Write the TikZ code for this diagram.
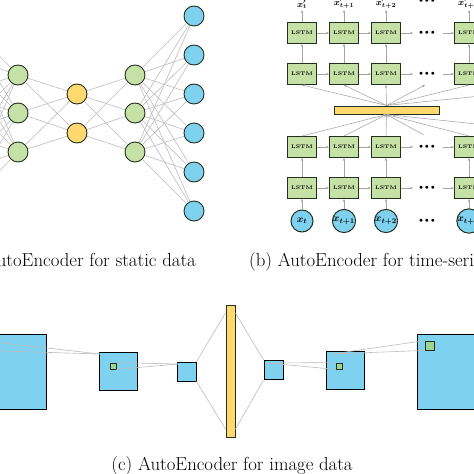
\documentclass[tikz,border=0pt]{standalone}
\usetikzlibrary{arrows.meta}
\definecolor{nngreen}{RGB}{198,225,165}
\definecolor{nnyellow}{RGB}{255,216,112}
\definecolor{nnblue}{RGB}{126,210,240}
\definecolor{edgec}{RGB}{36,48,30}
\definecolor{linkc}{RGB}{188,188,188}
\definecolor{arrc}{RGB}{165,165,165}
\definecolor{innergreen}{RGB}{160,210,150}
\begin{document}
\begin{tikzpicture}[x=1pt,y=-1pt,
  neuron/.style={circle,draw=edgec,line width=0.9pt,minimum size=20pt,inner sep=0pt},
  gn/.style={neuron,fill=nngreen},
  yn/.style={neuron,fill=nnyellow},
  bn/.style={neuron,fill=nnblue},
  link/.style={draw=linkc,line width=0.6pt},
  lstm/.style={rectangle,draw=edgec,line width=1pt,fill=nngreen,minimum width=29pt,minimum height=21pt,inner sep=0pt,font=\fontsize{5.2}{6}\selectfont\bfseries},
  xin/.style={circle,draw=edgec,line width=1pt,fill=nnblue,minimum size=22pt,inner sep=0pt,font=\fontsize{10}{11}\selectfont\boldmath},
  arr/.style={draw=arrc,line width=0.55pt,-{Stealth[length=3pt,width=2.6pt]}},
  outlab/.style={inner sep=1pt,font=\fontsize{9}{10}\selectfont\boldmath},
  dotsn/.style={inner sep=0pt,font=\fontsize{7}{7}\selectfont},
  sq/.style={rectangle,draw=black,line width=1pt,fill=nnblue,inner sep=0pt},
  insq/.style={rectangle,draw=edgec,line width=0.8pt,fill=innergreen,inner sep=0pt},
  captxt/.style={inner sep=0pt,font=\fontsize{18.8}{22}\selectfont}
]
\useasboundingbox (0,0) rectangle (474,474);
\clip (0,0) rectangle (474,474);

% ---------- (a) static data ----------
\foreach \i/\yy in {1/16,2/55,3/94,4/133,5/172,6/211}{
  \node[bn] (in\i) at (-40,\yy) {};
  \node[bn] (o\i) at (194,\yy) {};
}
\foreach \i/\yy in {1/75,2/113,3/152}{
  \node[gn] (g\i) at (18,\yy) {};
  \node[gn] (h\i) at (135,\yy) {};
}
\foreach \i/\yy in {1/94,2/133}{
  \node[yn] (y\i) at (77,\yy) {};
}
\foreach \i in {1,...,6}{\foreach \j in {1,2,3}{
  \draw[link] (in\i) -- (g\j);
  \draw[link] (h\j) -- (o\i);
}}
\foreach \i in {1,2,3}{\foreach \j in {1,2}{
  \draw[link] (g\i) -- (y\j);
  \draw[link] (y\j) -- (h\i);
}}
\node[captxt,anchor=base east] (capa) at (196,266) {(a) AutoEncoder for static data};

% ---------- (b) time-series ----------
\foreach \c/\xx in {1/302,2/344,3/386,5/469}{
  \foreach \r/\yy in {1/33,2/74,3/147,4/188}{
    \node[lstm] (b\r\c) at (\xx,\yy) {LSTM};
  }
}
\node[xin] (c1) at (302,221) {$x_t$};
\node[xin] (c2) at (344,221) {$x_{t+1}$};
\node[xin] (c3) at (386,221) {$x_{t+2}$};
\node[xin] (c5) at (469,221) {$x_{t+n}$};
\node[outlab,anchor=south] (t1) at (302,10) {$x'_t$};
\node[outlab,anchor=south] (t2) at (344,10) {$x'_{t+1}$};
\node[outlab,anchor=south] (t3) at (386,10) {$x'_{t+2}$};
\node[outlab,anchor=south] (t5) at (469,10) {$x'_{t+n}$};
\node[dotsn] (d0) at (427,1) {$\bullet\bullet\bullet$};
\foreach \r/\yy in {1/33,2/74,3/147,4/188}{
  \node[dotsn] (d\r) at (427,\yy) {$\bullet\bullet\bullet$};
  \coordinate (hl\r) at (413,\yy);
  \coordinate (hr\r) at (443,\yy);
  \draw[arr] (b\r1) -- (b\r2);
  \draw[arr] (b\r2) -- (b\r3);
  \draw[arr] (b\r3) -- (hl\r);
  \draw[arr] (hr\r) -- (b\r5);
}
\node[dotsn] (d5) at (427,221) {$\bullet\bullet\bullet$};
\node[rectangle,draw=edgec,line width=1pt,fill=nnyellow,minimum width=105pt,minimum height=8pt,inner sep=0pt] (bar) at (386.5,110) {};
\foreach \c in {1,2,3,5}{
  \draw[arr] (c\c) -- (b4\c);
  \draw[arr] (b4\c) -- (b3\c);
  \draw[arr] (b2\c) -- (b1\c);
  \draw[arr] (b1\c) -- (t\c);
  \draw[arr] (bar.north) -- (b2\c.south);
  \draw[arr] (b3\c.north) -- (bar.south);
}
\coordinate (fu) at (425,85);
\coordinate (fd) at (424,135);
\coordinate (fu2) at (590,85);
\coordinate (fd2) at (590,136);
\draw[arr] (bar.north) -- (fu);
\draw[arr] (fd) -- (bar.south);
\draw[arr] (bar.north) -- (fu2);
\draw[arr] (fd2) -- (bar.south);
\node[captxt,anchor=base west] (capb) at (249,266) {(b) AutoEncoder for time-series data};

% ---------- (c) image data ----------
\node[sq,minimum size=75pt] (L1) at (8.5,371.5) {};
\node[insq,minimum size=9pt] (I0) at (-23.5,345.5) {};
\node[sq,minimum size=38pt] (M1) at (118,371) {};
\node[insq,minimum size=6pt] (I1) at (113,366) {};
\node[sq,minimum size=19pt] (S1) at (186.5,371.5) {};
\node[rectangle,draw=edgec,line width=1pt,fill=nnyellow,minimum width=9pt,minimum height=132pt,inner sep=0pt] (Z) at (230.5,371) {};
\node[sq,minimum size=19pt] (S2) at (273.5,370) {};
\node[sq,minimum size=38pt] (M2) at (345,370) {};
\node[insq,minimum size=6pt] (I2) at (339,366) {};
\node[sq,minimum size=75pt] (L2) at (454.5,371.5) {};
\node[insq,minimum size=9pt] (I3) at (429.5,345.5) {};

\coordinate (pM1) at (100,354);
\coordinate (pS1) at (178,364);
\coordinate (zl1) at (Z.west |- 0,313);
\coordinate (zl2) at (Z.west |- 0,429);
\coordinate (zr1) at (Z.east |- 0,313);
\coordinate (zr2) at (Z.east |- 0,429);
\coordinate (pS2) at (268,363);
\coordinate (pM2) at (332,354);

\draw[link] (I0.north east) -- (pM1);
\draw[link] (I0.south east) -- (pM1);
\draw[link] (I1.north east) -- (pS1);
\draw[link] (I1.south east) -- (pS1);
\draw[link] (S1.north east) -- (zl1);
\draw[link] (S1.south east) -- (zl2);
\draw[link] (zr1) -- (S2.north west);
\draw[link] (zr2) -- (S2.south west);
\draw[link] (pS2) -- (I2.north west);
\draw[link] (pS2) -- (I2.south west);
\draw[link] (pM2) -- (I3.north west);
\draw[link] (pM2) -- (I3.south west);

\node[captxt,anchor=base] (capc) at (232,470) {(c) AutoEncoder for image data};
\end{tikzpicture}
\end{document}
